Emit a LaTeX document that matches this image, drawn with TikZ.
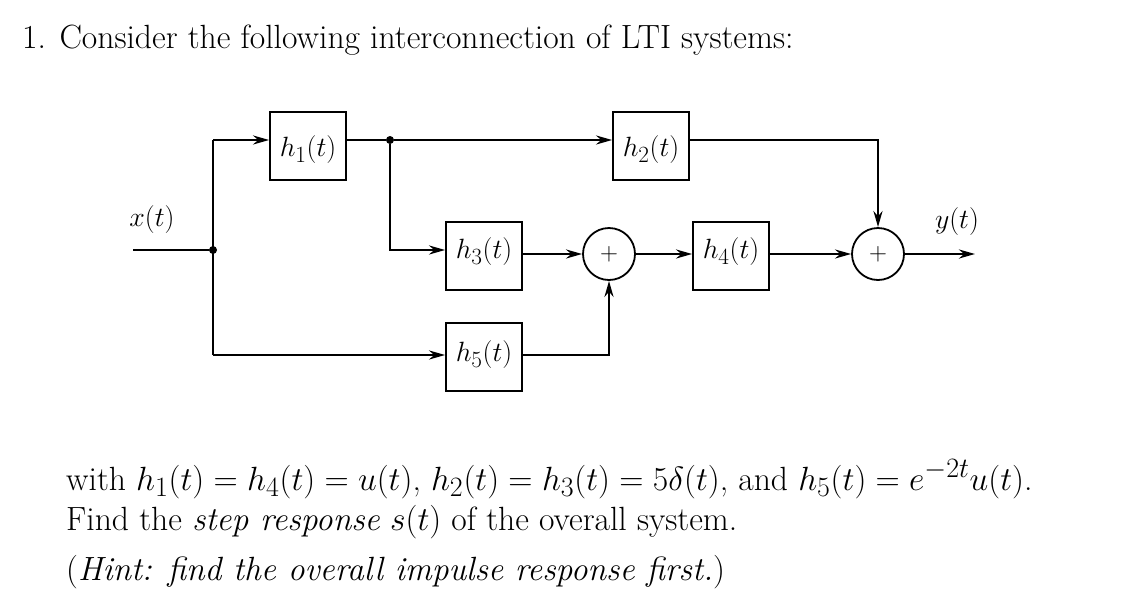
\documentclass[tikz,border=0pt]{standalone}
\usepackage{graphicx}
\usetikzlibrary{arrows.meta}
\newcommand{\bigtxt}[1]{\scalebox{1.35}{\fontsize{24.88}{30}\selectfont #1}}
\newcommand{\labtxt}[1]{\scalebox{1.12}{\fontsize{24.88}{30}\selectfont #1}}
\begin{document}
\begin{tikzpicture}[x=1pt,y=-1pt,
  ln/.style={line width=2.6pt},
  ar/.style={ln,-{Stealth[length=16pt,width=9pt]}},
  box/.style={draw,line width=1.8pt,minimum width=76pt,minimum height=68pt,inner sep=0pt},
  lab/.style={inner sep=0pt},
  sum/.style={draw,circle,line width=1.8pt,minimum size=52pt,inner sep=0pt,font=\fontsize{24.88}{26}\selectfont},
  dot/.style={circle,fill,inner sep=0pt,minimum size=8pt},
  txt/.style={anchor=base west,inner sep=0pt}]
\useasboundingbox (0,0) rectangle (1147,600);
\node[txt] (title) at (22,48) {\bigtxt{1. Consider the following interconnection of LTI systems:}};
% boxes
\node[box] (h1) at (308,146) {};
\node[lab] (l1) at (308,150) {\labtxt{$h_1(t)$}};
\node[box] (h2) at (651,146) {};
\node[lab] (l2) at (651,150) {\labtxt{$h_2(t)$}};
\node[box] (h3) at (484,256) {};
\node[lab] (l3) at (484,252) {\labtxt{$h_3(t)$}};
\node[box] (h4) at (731,256) {};
\node[lab] (l4) at (731,252) {\labtxt{$h_4(t)$}};
\node[box] (h5) at (484,357) {};
\node[lab] (l5) at (484,355) {\labtxt{$h_5(t)$}};
\node[sum] (s1) at (609,254) {$+$};
\node[sum] (s2) at (878,254) {$+$};
% coordinates
\coordinate (in) at (133,250);
\node[dot] (j0) at (213,250) {};
\coordinate (t0) at (213,140);
\coordinate (b0) at (213,355);
\node[dot] (j1) at (390,140) {};
\coordinate (c1) at (390,250);
\coordinate (c2) at (878,140);
\coordinate (c3) at (609,355);
\coordinate (out) at (975,254);
\node[lab] (x) at (152,220) {\labtxt{$x(t)$}};
\node[lab] (y) at (957,222) {\labtxt{$y(t)$}};
% wires
\draw[ln] (in) -- (j0);
\draw[ln] (b0) -- (t0);
\draw[ar] (t0) -- (h1.west |- t0);
\draw[ln] (h1.east |- j1) -- (j1);
\draw[ar] (j1) -- (h2.west |- j1);
\draw[ar] (h2.east |- c2) -- (c2) -- (s2.north);
\draw[ar] (j1) -- (c1) -- (h3.west |- c1);
\draw[ar] (h3.east |- s1) -- (s1.west);
\draw[ar] (s1.east) -- (h4.west |- s1);
\draw[ar] (h4.east |- s2) -- (s2.west);
\draw[ar] (s2.east) -- (out);
\draw[ar] (b0) -- (h5.west |- b0);
\draw[ar] (h5.east |- c3) -- (c3) -- (s1.south);
% text
\node[txt] (t1) at (66,490) {\bigtxt{with $h_1(t)=h_4(t)=u(t)$, $h_2(t)=h_3(t)=5\delta(t)$, and $h_5(t)=e^{-2t}u(t)$.}};
\node[txt] (t2) at (66,530) {\bigtxt{Find the \textit{step response} $s(t)$ of the overall system.}};
\node[txt] (t3) at (66,580) {\bigtxt{(\textit{Hint: find the overall impulse response first.})}};
\end{tikzpicture}
\end{document}
